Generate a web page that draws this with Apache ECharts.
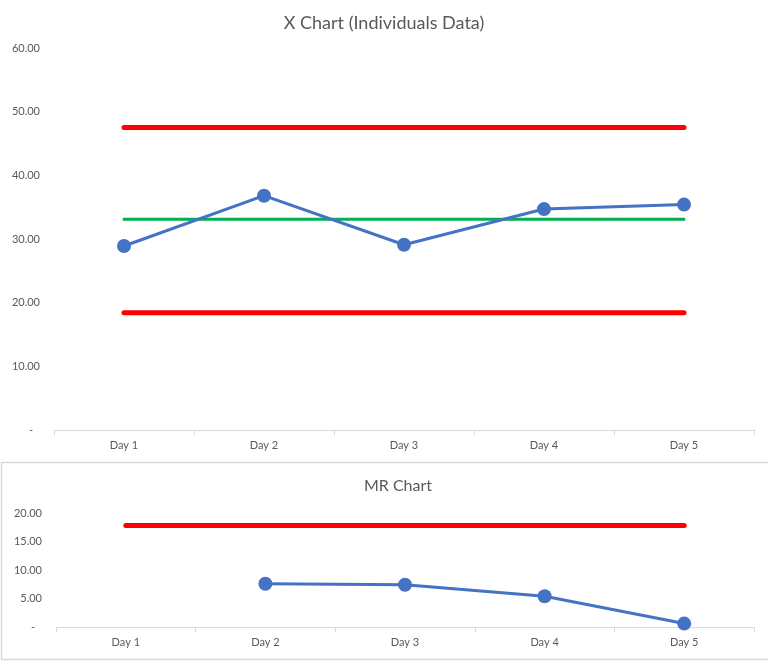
<!DOCTYPE html>
<html lang="en">
  <head>
    <meta charset="UTF-8" />
    <title>X and MR Chart</title>
    <script src="https://cdn.jsdelivr.net/npm/echarts@6/dist/echarts.min.js"></script>
    <style>
      html, body { margin: 0; padding: 0; background: #fff; }
    </style>
  </head>

  <body>
    <div id="main" style="width: 768px; height: 664px"></div>

    <script type="text/javascript">
      // values
      const days = ["Day 1", "Day 2", "Day 3", "Day 4", "Day 5"];
      const xValues = [28.9, 36.8, 29.1, 34.7, 35.4];
      const xUcl = [47.5, 47.5, 47.5, 47.5, 47.5];
      const xMean = [33.1, 33.1, 33.1, 33.1, 33.1];
      const xLcl = [18.4, 18.4, 18.4, 18.4, 18.4];
      const mrValues = [null, 7.6, 7.4, 5.4, 0.6];
      const mrUcl = [17.8, 17.8, 17.8, 17.8, 17.8];

      const font = "Lato, 'Open Sans', sans-serif";
      const grey = "#595959";
      const axisGrey = "#d9d9d9";

      // Excel accounting style: zero shows as a dash
      function fmt(v) {
        return v === 0 ? "{dash|-}" : v.toFixed(2);
      }

      function xAxisFor(gridIndex) {
        return {
          type: "category",
          gridIndex: gridIndex,
          data: days,
          boundaryGap: true,
          axisLine: { lineStyle: { color: axisGrey, width: 1 } },
          axisTick: { show: true, length: 5, lineStyle: { color: axisGrey } },
          axisLabel: { color: grey, fontFamily: font, fontSize: 11, margin: 10 },
        };
      }

      function yAxisFor(gridIndex, max, interval) {
        return {
          type: "value",
          gridIndex: gridIndex,
          min: 0,
          max: max,
          interval: interval,
          axisLine: { show: false },
          axisTick: { show: false },
          splitLine: { show: false },
          axisLabel: {
            color: grey,
            fontFamily: font,
            fontSize: 11,
            margin: 14,
            formatter: fmt,
            rich: { dash: { color: grey, fontFamily: font, fontSize: 11, padding: [0, 7, 0, 0] } },
          },
        };
      }

      function limitLine(name, data, color, width, axis) {
        return {
          name: name,
          type: "line",
          xAxisIndex: axis,
          yAxisIndex: axis,
          data: data,
          symbol: "none",
          lineStyle: { color: color, width: width, cap: "round" },
          silent: true,
          z: 2,
        };
      }

      let options = {
        animation: false,
        backgroundColor: "#fff",
        title: [
          {
            text: "X Chart (Individuals Data)",
            left: "center",
            top: 9,
            textStyle: { color: grey, fontFamily: font, fontSize: 18, fontWeight: "normal" },
          },
          {
            text: "MR Chart",
            left: 393,
            textAlign: "center",
            top: 473,
            textStyle: { color: grey, fontFamily: font, fontSize: 16, fontWeight: "normal" },
          },
        ],
        graphic: [
          {
            type: "rect",
            shape: { x: 1.5, y: 462.5, width: 780, height: 197 },
            style: { fill: "none", stroke: axisGrey, lineWidth: 1.5 },
            silent: true,
            z: -1,
          },
        ],
        grid: [
          { left: 54, right: 14, top: 48, bottom: 234 },
          { left: 56, right: 14, top: 513, bottom: 37 },
        ],
        xAxis: [xAxisFor(0), xAxisFor(1)],
        yAxis: [yAxisFor(0, 60, 10), yAxisFor(1, 20, 5)],
        series: [
          limitLine("UCL", xUcl, "#ff0000", 5, 0),
          limitLine("LCL", xLcl, "#ff0000", 5, 0),
          limitLine("Mean", xMean, "#00b050", 3, 0),
          {
            name: "X",
            type: "line",
            data: xValues,
            symbol: "circle",
            symbolSize: 14,
            itemStyle: { color: "#4472c4" },
            lineStyle: { color: "#4472c4", width: 3 },
            z: 3,
          },
          limitLine("MR UCL", mrUcl, "#ff0000", 5, 1),
          {
            name: "MR",
            type: "line",
            xAxisIndex: 1,
            yAxisIndex: 1,
            data: mrValues,
            symbol: "circle",
            symbolSize: 14,
            itemStyle: { color: "#4472c4" },
            lineStyle: { color: "#4472c4", width: 3 },
            z: 3,
          },
        ],
      };

      let myChart = echarts.init(document.getElementById("main"));
      myChart.setOption(options);
    </script>
  </body>
</html>
